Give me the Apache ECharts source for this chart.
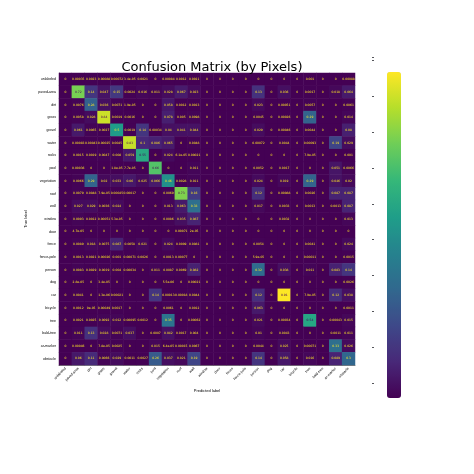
<!DOCTYPE html>
<html>
<head>
<meta charset="utf-8">
<script src="https://cdn.jsdelivr.net/npm/echarts@6/dist/echarts.min.js"></script>
<style>html,body{margin:0;padding:0;background:#fff}#cm{width:474px;height:474px}</style>
</head>
<body>
<div id="cm"></div>
<script>
var labels = ['unlabeled','paved-area','dirt','grass','gravel','water','rocks','pool','vegetation','roof','wall','window','door','fence','fence-pole','person','dog','car','bicycle','tree','bald-tree','ar-marker','obstacle'];

// rows = true label; only columns 0-10, 15, 17, 19, 21, 22 are non-zero
var left = [
  [0,0.00035,0.0023,0.00088,0.00072,3.4e-5,0.0021,0,0.00084,0.0012,0.0011],
  [0,0.72,0.14,0.047,0.15,0.0024,0.016,0.011,0.028,0.067,0.023],
  [0,0.0076,0.28,0.036,0.0071,1.9e-5,0,0,0.058,0.0012,0.0013],
  [0,0.0058,0.028,0.84,0.0019,0.0016,0,0,0.078,0.005,0.0098],
  [0,0.061,0.0065,0.0027,0.5,0.0019,0.14,0.00034,0.04,0.041,0.044],
  [0,0.00083,0.00043,0.00025,0.0045,0.83,0.1,0.086,0.065,0,0.0048],
  [0,0.0015,0.0019,0.0047,0.008,0.059,0.55,0,0.024,6.1e-5,0.00021],
  [0,0.00036,0,0,1.8e-5,7.7e-5,0,0.66,0,0,0.011],
  [0,0.0066,0.29,0.02,0.033,0.06,0.025,0.066,0.46,0.0028,0.011],
  [0,0.0079,0.0048,7.9e-5,0.00045,0.00017,0,0,0.0069,0.73,0.16],
  [0,0.027,0.029,0.0036,0.024,0,0,0,0.013,0.063,0.33],
  [0,0.0093,0.0012,0.00051,5.3e-5,0,0,0,0.0086,0.035,0.087],
  [0,4.7e-5,0,0,0,0,0,0,0,0.00071,2e-5],
  [0,0.0089,0.018,0.0075,0.087,0.0058,0.021,0,0.024,0.0009,0.0081],
  [0,0.0013,0.0021,0.00026,0.001,0.00071,0.0026,0,0.0013,0.00077,0],
  [0,0.0083,0.0029,0.0019,0.004,0.00034,0,0.011,0.0087,0.0069,0.082],
  [0,2.8e-5,0,3.4e-5,0,0,0,0,5.5e-6,0,0.00021],
  [0,0.0041,0,1.3e-6,0.00021,0,0,0.14,0.00013,0.00018,0.0044],
  [0,0.0012,9e-5,0.00049,0.0017,0,0,0,0.0061,0,0.0012],
  [0,0.0021,0.0025,0.0092,0.012,0.00095,0.0012,0,0.35,0,0.00062],
  [0,0.011,0.13,0.028,0.0071,0.037,0,0.0007,0.042,0.0017,0.004],
  [0,0.00046,0,7.8e-5,0.0025,0,0,0.015,6.4e-5,0.00015,0.0067],
  [0,0.06,0.11,0.0066,0.029,0.0011,0.0027,0.26,0.037,0.021,0.19]
];
var rightCols = [15,17,19,21,22];
var right = [
  [0,0,0.001,0,0.00088],
  [0.13,0.036,0.0017,0.018,0.064],
  [0.023,0.00051,0.0057,0,0.0061],
  [0.0045,0.00026,0.29,0,0.014],
  [0.029,0.00046,0.0044,0,0.08],
  [0.00072,0.0044,0.00093,0.19,0.029],
  [0,0,7.9e-5,0,0.001],
  [0.0052,0.0017,0,0.051,0.0066],
  [0.024,0.019,0.29,0.046,0.02],
  [0.12,0.00088,0.0026,0.087,0.087],
  [0.017,0.0033,0.0013,0.0013,0.087],
  [0,0.0032,0,0,0.013],
  [0,0,0,0,0],
  [0.0054,0,0.0041,0,0.024],
  [5.9e-5,0,0.00011,0,0.0015],
  [0.32,0.038,0.011,0.083,0.14],
  [0,0,0,0,0.0026],
  [0.12,0.91,7.9e-5,0.12,0.038],
  [0.063,0,0,0,0.0011],
  [0.021,0.00034,0.54,0.00043,0.015],
  [0.01,0.0043,0,0.0011,0.011],
  [0.0044,0.025,0.00071,0.33,0.026],
  [0.14,0.058,0.016,0.089,0.3]
];

function g2(v) {
  if (v === 0) return '0';
  var s = Number(v.toPrecision(2));
  if (Math.abs(s) < 1e-4) {
    var e = s.toExponential(1).replace('.0e', 'e');
    return e.replace(/e([+-])(\d)$/, 'e$10$2');
  }
  return String(s);
}

var data = [];
for (var r = 0; r < labels.length; r++) {
  for (var c = 0; c < labels.length; c++) {
    var v = 0;
    if (c <= 10) v = left[r][c];
    var k = rightCols.indexOf(c);
    if (k >= 0) v = right[r][k];
    data.push([c, r, v]);
  }
}

var myChart = echarts.init(document.getElementById('cm'));
var option = {
  backgroundColor: '#fff',
  title: {
    text: 'Confusion Matrix (by Pixels)',
    left: 207, top: 56, textAlign: 'center',
    textStyle: {fontSize: 13, fontWeight: 'normal', color: '#000', fontFamily: 'DejaVu Sans'}
  },
  grid: [
    {left: 59, top: 73, width: 296, height: 292},
    {left: 372, top: 57, width: 14, height: 326}
  ],
  xAxis: [
    {type: 'category', data: labels, gridIndex: 0, name: 'Predicted label', nameLocation: 'middle', nameGap: 22,
     nameTextStyle: {fontSize: 4, color: '#000'},
     axisLabel: {rotate: 45, fontSize: 3.5, color: '#000', interval: 0, margin: 3},
     axisTick: {length: 2, alignWithLabel: true}, axisLine: {lineStyle: {color: '#000', width: 0.5}}, splitArea: {show: false}},
    {type: 'value', gridIndex: 1, show: false}
  ],
  yAxis: [
    {type: 'category', data: labels, gridIndex: 0, inverse: true, name: 'True label', nameLocation: 'middle', nameGap: 25,
     nameTextStyle: {fontSize: 4, color: '#000'},
     axisLabel: {fontSize: 3.5, color: '#000', interval: 0, margin: 3},
     axisTick: {length: 2, alignWithLabel: true}, axisLine: {lineStyle: {color: '#000', width: 0.5}}},
    {type: 'value', gridIndex: 1, position: 'right', min: 0, max: 0.91, interval: 0.1,
     axisLabel: {fontSize: 3.5, color: '#000', margin: 3, formatter: function (v) { return v > 0.85 ? '' : v.toFixed(1); }},
     axisTick: {show: true, length: 2}, axisLine: {show: false}, splitLine: {show: false}}
  ],
  visualMap: {
    type: 'continuous', min: 0, max: 0.91, seriesIndex: 0, calculable: false,
    left: 372, top: 57, itemWidth: 14, itemHeight: 326, text: ['', ''], showLabel: false,
    inRange: {color: ['#440154','#482878','#3e4989','#31688e','#26828e','#1f9e89','#35b779','#6ece58','#b5de2b','#fde725']}
  },
  series: [
    {type: 'heatmap', xAxisIndex: 0, yAxisIndex: 0, data: data,
     label: {show: true, fontSize: 3, fontFamily: 'DejaVu Sans',
       formatter: function (p) { return g2(p.value[2]); },
       color: '#fde725'},
     labelLayout: {hideOverlap: false},
     emphasis: {disabled: true}},
    {type: 'scatter', xAxisIndex: 1, yAxisIndex: 1, data: [], silent: true}
  ]
};
// dark text on bright cells, like matplotlib
option.series[0].data = data.map(function (d) {
  return d[2] > 0.5 ? {value: d, label: {color: '#440154'}} : d;
});
myChart.setOption(option, true);
</script>
</body>
</html>
